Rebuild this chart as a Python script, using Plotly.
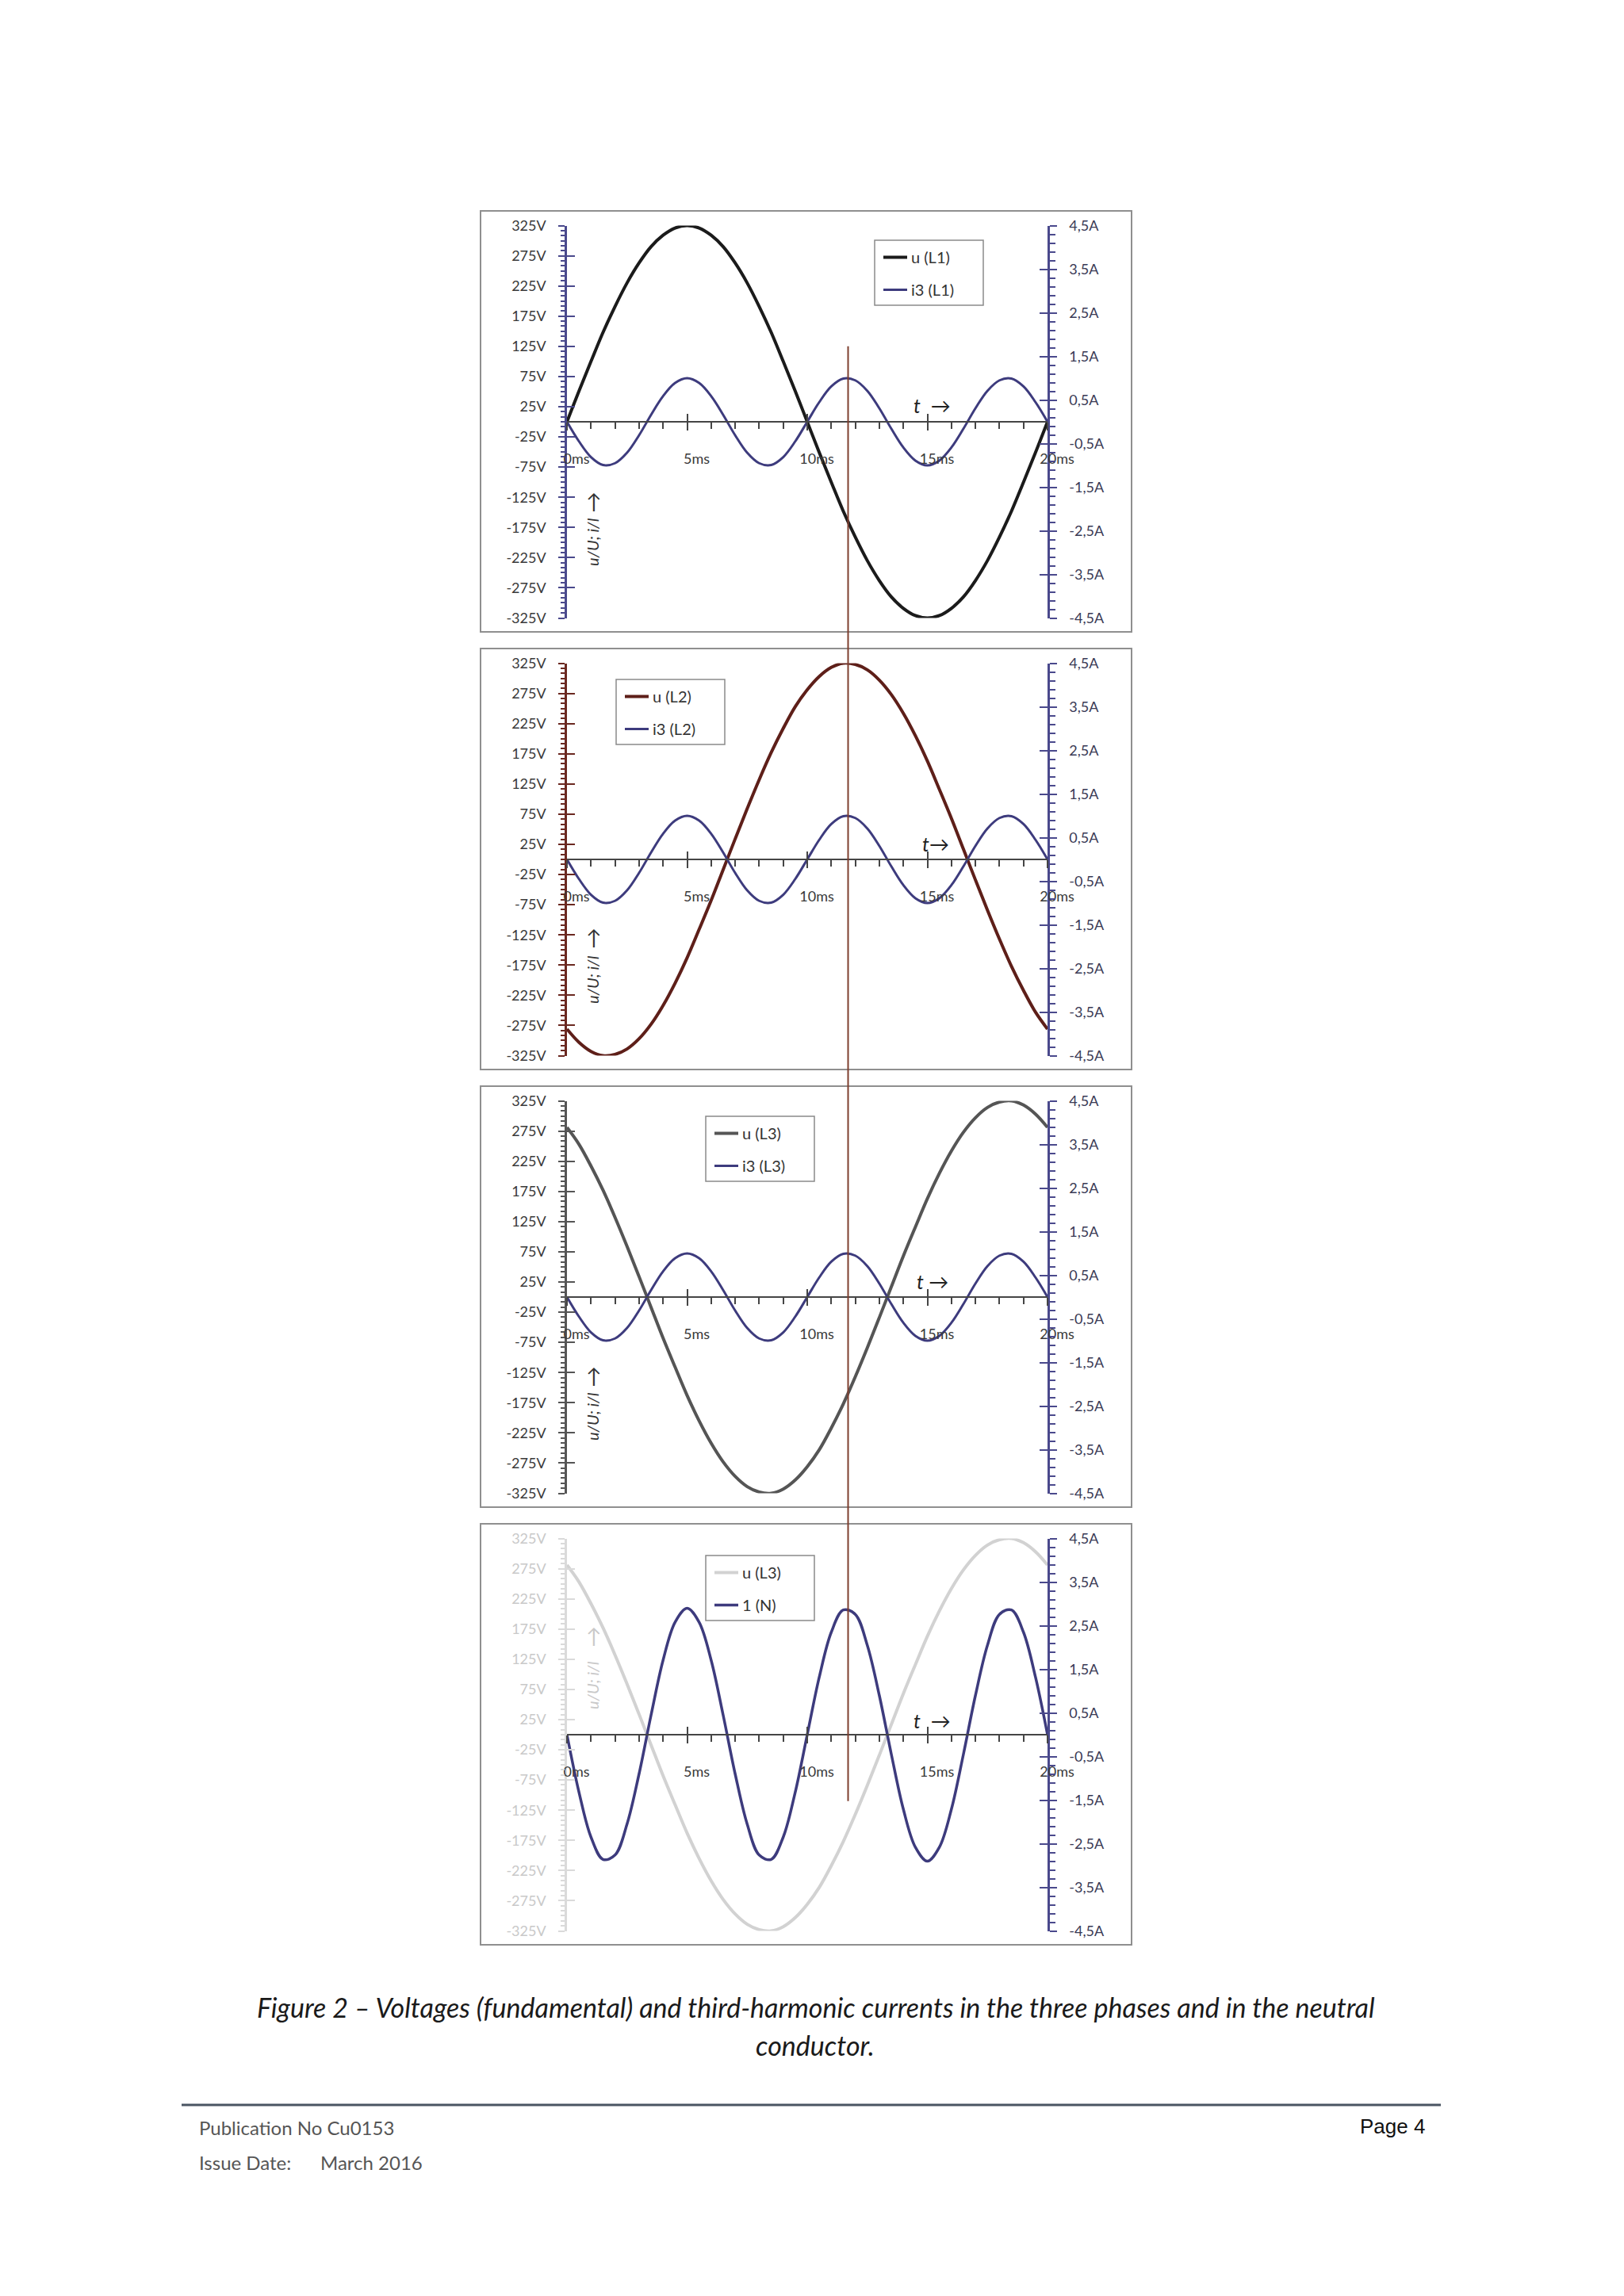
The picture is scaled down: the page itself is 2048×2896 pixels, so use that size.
import plotly.graph_objects as go

# ---- data (time in ms, voltage in V, current in A) ----
T_MS = [0, 0.5, 1, 1.5, 2, 2.5, 3, 3.5, 4, 4.5, 5, 5.5, 6, 6.5, 7, 7.5, 8, 8.5, 9, 9.5,
        10, 10.5, 11, 11.5, 12, 12.5, 13, 13.5, 14, 14.5, 15, 15.5, 16, 16.5, 17, 17.5,
        18, 18.5, 19, 19.5, 20]
U_L1 = [0, 51, 100, 148, 191, 230, 263, 290, 309, 321, 325, 321, 309, 290, 263, 230, 191,
        148, 100, 51, 0, -51, -100, -148, -191, -230, -263, -290, -309, -321, -325, -321,
        -309, -290, -263, -230, -191, -148, -100, -51, 0]
U_L2 = [-281, -303, -318, -325, -323, -314, -297, -273, -242, -205, -163, -116, -68, -17,
        34, 84, 132, 177, 217, 253, 281, 303, 318, 325, 323, 314, 297, 273, 242, 205, 163,
        116, 68, 17, -34, -84, -132, -177, -217, -253, -281]
U_L3 = [281, 253, 217, 177, 132, 84, 34, -17, -68, -116, -163, -205, -242, -273, -297,
        -314, -323, -325, -318, -303, -281, -253, -217, -177, -132, -84, -34, 17, 68, 116,
        163, 205, 242, 273, 297, 314, 323, 325, 318, 303, 281]
I3 = [0, -0.45, -0.81, -0.99, -0.95, -0.71, -0.31, 0.16, 0.59, 0.89, 1.0, 0.89, 0.59, 0.16,
      -0.31, -0.71, -0.95, -0.99, -0.81, -0.45, 0, 0.45, 0.81, 0.99, 0.95, 0.71, 0.31,
      -0.16, -0.59, -0.89, -1.0, -0.89, -0.59, -0.16, 0.31, 0.71, 0.95, 0.99, 0.81, 0.45, 0]
I_N = [0, -1.32, -2.35, -2.86, -2.76, -2.05, -0.90, 0.45, 1.71, 2.58, 2.90, 2.58, 1.71, 0.45,
       -0.90, -2.05, -2.76, -2.86, -2.35, -1.32, 0, 1.32, 2.35, 2.86, 2.76, 2.05, 0.90,
       -0.45, -1.71, -2.58, -2.90, -2.58, -1.71, -0.45, 0.90, 2.05, 2.76, 2.86, 2.35, 1.32, 0]

PANEL_VOLT = [U_L1, U_L2, U_L3, U_L3]
PANEL_CURR = [I3, I3, I3, I_N]
VOLT_NAMES = ['u (L1)', 'u (L2)', 'u (L3)', 'u (L3)']
CURR_NAMES = ['i3 (L1)', 'i3 (L2)', 'i3 (L3)', '1 (N)']

V_TICKS = [325, 275, 225, 175, 125, 75, 25, -25, -75, -125, -175, -225, -275, -325]
V_TEXT = ['325V', '275V', '225V', '175V', '125V', '75V', '25V', '-25V', '-75V', '-125V',
          '-175V', '-225V', '-275V', '-325V']
A_TICKS = [4.5, 3.5, 2.5, 1.5, 0.5, -0.5, -1.5, -2.5, -3.5, -4.5]
A_TEXT = ['4,5A', '3,5A', '2,5A', '1,5A', '0,5A', '-0,5A', '-1,5A', '-2,5A', '-3,5A', '-4,5A']
T_TICKS = [0, 5, 10, 15, 20]
T_TEXT = ['0ms', '5ms', '10ms', '15ms', '20ms']

MARKER_T = 11.7        # ms, vertical cursor
MARKER_TOP_V = 125     # where it starts in the first panel
MARKER_BOTTOM_V = -110  # where it ends in the last panel

CAPTION = ['Figure 2 \u2013 Voltages (fundamental) and third-harmonic currents in the three phases and in the neutral',
           'conductor.']

# ---- styling / geometry (pixels of the 2048 x 2896 page) ----
W, H = 2048, 2896
FONT = 'Lato, "Open Sans", sans-serif'
PITCH = 552
PLOT_L, PLOT_R = 715, 1321
PLOT_T, PLOT_B = 284.5, 779.5
BOX_L, BOX_R, BOX_T, BOX_B = 606, 1427, 266, 797
VOLT_COLORS = ['#1b1b1b', '#5e1f19', '#555555', '#d2d2d2']
LEFT_AXIS_COLORS = ['#4a498c', '#6a2820', '#555555', '#dadada']
LEFT_LABEL_COLORS = ['#3a3a3a', '#3a3a3a', '#3a3a3a', '#c9c9c9']
CURR_COLOR = '#3d3b7d'
NAVY = '#4a498c'
GREY = '#454545'
LEGEND_BOX = [(1103, 303), (777, 857), (890, 1408), (890, 1962)]
ARROW_DY = [100, 98, 99, -125]
LABEL_DY = [152, 152, 151, -62]
T_LABEL = [(15.2, 28, '<i>t</i>  \u2192'), (15.35, 26, '<i>t</i>\u2192'),
           (15.2, 26, '<i>t</i> \u2192'), (15.2, 24, '<i>t</i>  \u2192')]


def px(x):
    return x / W


def py(y):
    return 1 - y / H


def ref(letter, n):
    return letter + ('' if n == 1 else str(n))


def axname(letter, n):
    return letter + 'axis' + ('' if n == 1 else str(n))


def note(text, x, y, size, color, xanchor='center', **kw):
    return dict(text=text, xref='paper', yref='paper', x=px(x), y=py(y), xanchor=xanchor,
                yanchor='middle', showarrow=False, font=dict(size=size, color=color), **kw)


fig = go.Figure()
layout = dict(width=W, height=H, margin=dict(l=0, r=0, t=0, b=0, autoexpand=False),
              paper_bgcolor='white', plot_bgcolor='rgba(0,0,0,0)', showlegend=True,
              font=dict(family=FONT, color='#333333'))
shapes, annotations = [], []

for i in range(4):
    top, bot = PLOT_T + PITCH * i, PLOT_B + PITCH * i
    zero = (top + bot) / 2
    xm, xo = 2 * i + 1, 2 * i + 2
    yl, yr, ylo, yro = 4 * i + 1, 4 * i + 2, 4 * i + 3, 4 * i + 4
    lc = LEFT_AXIS_COLORS[i]

    layout[axname('x', xm)] = dict(
        domain=[px(PLOT_L), px(PLOT_R)], range=[0, 20], anchor='free', position=py(zero),
        showline=True, linecolor=GREY, linewidth=2, showgrid=False, zeroline=False,
        ticks='outside', ticklen=10, tickwidth=2, tickcolor=GREY,
        tickmode='array', tickvals=T_TICKS, ticktext=T_TEXT,
        ticklabelstandoff=20, ticklabelshift=12, tickfont=dict(size=18, color='#3a3a3a'),
        minor=dict(ticks='outside', ticklen=8, tickwidth=1.5, tickcolor=GREY, tick0=0, dtick=1))
    layout[axname('x', xo)] = dict(
        overlaying=ref('x', xm), range=[0, 20], anchor='free', position=py(zero),
        showline=False, showgrid=False, zeroline=False, showticklabels=False,
        ticks='inside', ticklen=10, tickwidth=2, tickcolor=GREY,
        tickmode='array', tickvals=T_TICKS)
    layout[axname('y', yl)] = dict(
        domain=[py(bot), py(top)], range=[-325, 325], anchor=ref('x', xm), side='left',
        showline=True, linecolor=lc, linewidth=2.5, showgrid=False, zeroline=False,
        ticks='outside', ticklen=8, tickwidth=2, tickcolor=lc,
        tickmode='array', tickvals=V_TICKS, ticktext=V_TEXT,
        ticklabelstandoff=12, tickfont=dict(size=18, color=LEFT_LABEL_COLORS[i]),
        minor=dict(ticks='outside', ticklen=5, tickwidth=1.5, tickcolor=lc, tick0=25, dtick=50 / 6))
    layout[axname('y', yr)] = dict(
        overlaying=ref('y', yl), range=[-4.5, 4.5], anchor=ref('x', xm), side='right',
        showline=True, linecolor=NAVY, linewidth=2.5, showgrid=False, zeroline=False,
        ticks='outside', ticklen=9, tickwidth=2, tickcolor=NAVY,
        tickmode='array', tickvals=A_TICKS, ticktext=A_TEXT,
        ticklabelstandoff=12, tickfont=dict(size=18, color='#3a3a55'),
        minor=dict(ticks='outside', ticklen=7, tickwidth=1.5, tickcolor=NAVY, tick0=0.5, dtick=0.2))
    layout[axname('y', ylo)] = dict(
        overlaying=ref('y', yl), range=[-325, 325], anchor=ref('x', xm), side='left',
        showline=False, showgrid=False, zeroline=False, showticklabels=False,
        ticks='inside', ticklen=10, tickwidth=2, tickcolor=lc, tickmode='array', tickvals=V_TICKS)
    layout[axname('y', yro)] = dict(
        overlaying=ref('y', yl), range=[-4.5, 4.5], anchor=ref('x', xm), side='right',
        showline=False, showgrid=False, zeroline=False, showticklabels=False,
        ticks='inside', ticklen=10, tickwidth=2, tickcolor=NAVY, tickmode='array', tickvals=A_TICKS)

    leg = ref('legend', i + 1)
    fig.add_trace(go.Scatter(x=T_MS, y=PANEL_VOLT[i], xaxis=ref('x', xm), yaxis=ref('y', yl),
                             mode='lines', line=dict(color=VOLT_COLORS[i], width=4, shape='spline'),
                             name=VOLT_NAMES[i], legend=leg, legendgroup='v%d' % i, hoverinfo='skip'))
    fig.add_trace(go.Scatter(x=T_MS, y=PANEL_CURR[i], xaxis=ref('x', xm), yaxis=ref('y', yr),
                             mode='lines', line=dict(color=CURR_COLOR, width=3.5 if i == 3 else 3, shape='spline'),
                             name=CURR_NAMES[i], legend=leg, legendgroup='c%d' % i, hoverinfo='skip'))
    # empty traces so the tick-only overlay axes get drawn
    for xa, ya in [(xm, ylo), (xm, yro), (xo, yl)]:
        fig.add_trace(go.Scatter(x=[None], y=[None], xaxis=ref('x', xa), yaxis=ref('y', ya),
                                 mode='lines', showlegend=False, hoverinfo='skip'))

    lx, ly = LEGEND_BOX[i]
    layout[ref('legend', i + 1)] = dict(
        x=px(lx + 6), y=py(ly + 2), xanchor='left', yanchor='top', bgcolor='rgba(0,0,0,0)',
        borderwidth=0, font=dict(family=FONT, size=20, color='#333333'),
        traceorder='grouped', tracegroupgap=12, itemwidth=30)
    shapes.append(dict(type='rect', xref='paper', yref='paper', x0=px(lx), x1=px(lx + 137),
                       y0=py(ly + 82), y1=py(ly), line=dict(color='#8a8a8a', width=1.5)))

    # panel frame
    shapes.append(dict(type='rect', xref='paper', yref='paper', x0=px(BOX_L), x1=px(BOX_R),
                       y0=py(BOX_B + PITCH * i), y1=py(BOX_T + PITCH * i),
                       line=dict(color='#8f8f8f', width=2), layer='below'))

    faded = LEFT_LABEL_COLORS[i] if i == 3 else '#333333'
    annotations.append(note('\u2191', 749, zero + ARROW_DY[i], 26, faded))
    annotations.append(note('<i>u/U; i/I</i>', 747, zero + LABEL_DY[i], 20, faded, textangle=-90))
    tx, ty, ttext = T_LABEL[i]
    annotations.append(dict(text=ttext, xref=ref('x', xm), yref=ref('y', yl), x=tx, y=ty,
                            xanchor='center', yanchor='middle', showarrow=False,
                            font=dict(size=25, color='#222222')))

# vertical cursor across all panels
zero_first = (PLOT_T + PLOT_B) / 2
zero_last = zero_first + 3 * PITCH
scale = (PLOT_B - PLOT_T) / 650
shapes.append(dict(type='line', xref='x', yref='paper', x0=MARKER_T, x1=MARKER_T,
                   y0=py(zero_last - MARKER_BOTTOM_V * scale), y1=py(zero_first - MARKER_TOP_V * scale),
                   line=dict(color='#7e3f2f', width=2), layer='above'))

# caption and footer
annotations.append(note('<i>%s</i>' % CAPTION[0], 1029, 2531, 34, '#1a1a1a'))
annotations.append(note('<i>%s</i>' % CAPTION[1], 1028, 2579, 34, '#1a1a1a'))
shapes.append(dict(type='line', xref='paper', yref='paper', x0=px(229), x1=px(1817), y0=py(2655), y1=py(2655),
                   line=dict(color='#4a5562', width=3)))
annotations.append(note('Publication No Cu0153', 249, 2683, 24, '#555555', xanchor='left'))
annotations.append(note('Issue Date:', 249, 2727, 24, '#555555', xanchor='left'))
annotations.append(note('March 2016', 402, 2727, 24, '#555555', xanchor='left'))
page = note('Page 4', 1799, 2682, 26, '#111111', xanchor='right')
page['font']['family'] = '"Liberation Sans", Arial, sans-serif'
annotations.append(page)

layout['shapes'] = shapes
layout['annotations'] = annotations
fig.update_layout(**layout)
fig.write_html("out.html", config={'displayModeBar': False},
               post_script="document.body.style.margin='0';")
